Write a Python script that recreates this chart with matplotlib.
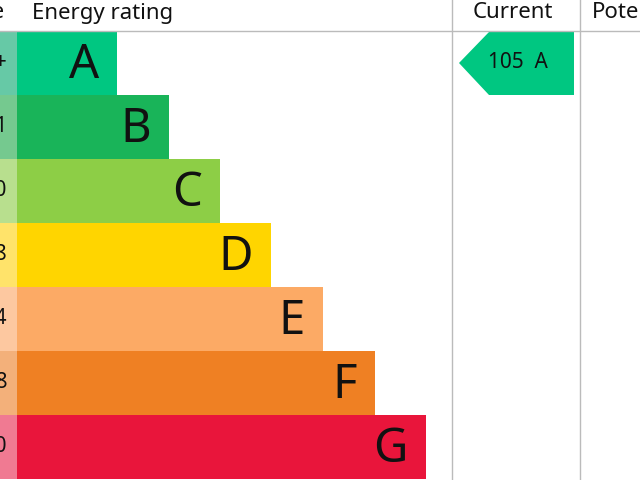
import matplotlib
matplotlib.use("Agg")
import matplotlib.pyplot as plt
from matplotlib.patches import Rectangle, Polygon

bands = ["A", "B", "C", "D", "E", "F", "G"]
score_labels = ["92+", "81-91", "69-80", "55-68", "39-54", "21-38", "1-20"]
bar_ends = [117, 169, 220, 271, 323, 375, 426]
colors = ["#00c781", "#19b459", "#8dce46", "#ffd500", "#fcaa65", "#ef8023", "#e9153b"]
light = ["#66c9a6", "#75c98f", "#b8df8e", "#ffe36a", "#fdc8a0", "#f3b07a", "#f07a92"]
current_score = 105
current_band = "A"

plt.rcParams['font.family'] = ['Noto Sans', 'DejaVu Sans']
fig = plt.figure(figsize=(6.4, 4.8), dpi=100)
ax = fig.add_axes([0, 0, 1, 1])
ax.set_xlim(0, 640)
ax.set_ylim(480, 0)
ax.axis('off')

top = 31
h = 64
for i, b in enumerate(bands):
    y = top + i * h
    ax.add_patch(Rectangle((0, y), 17, h, color=light[i], lw=0))
    ax.add_patch(Rectangle((17, y), bar_ends[i] - 17, h, color=colors[i], lw=0))
    ax.text(bar_ends[i] - 18, y + h / 2 + 2, b, ha='right', va='center', fontsize=34,
            fontweight='semibold', color='#111111')
    ax.text(7, y + h / 2, score_labels[i], ha='right', va='center', fontsize=15, color='#111111')

ax.plot([0, 640], [top, top], color='#bbbbbb', lw=1)
for x in [452, 580]:
    ax.plot([x, x], [0, 480], color='#bbbbbb', lw=1)

ax.text(5, 13, "Score", ha='right', va='center', fontsize=16, color='#111111')
ax.text(32, 13, "Energy rating", ha='left', va='center', fontsize=16, color='#111111')
ax.text(513, 13, "Current", ha='center', va='center', fontsize=16, color='#111111')
ax.text(592, 13, "Potential", ha='left', va='center', fontsize=16, color='#111111')

ci = bands.index(current_band)
y0 = top + ci * h + 1
ax.add_patch(Polygon([(459, y0 + 31), (489, y0), (574, y0), (574, y0 + 63), (489, y0 + 63)],
                     closed=True, color=colors[ci], lw=0))
ax.text(518, y0 + 30, f"{current_score}  {current_band}", ha='center', va='center', fontsize=15, color='#111111')

fig.savefig("out.png", dpi=100)
